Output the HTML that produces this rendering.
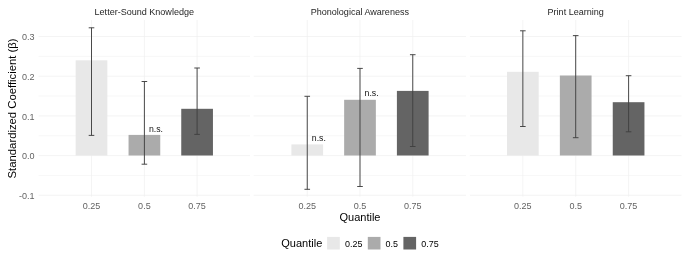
<!DOCTYPE html>
<html><head><meta charset="utf-8"><title>Chart</title>
<style>html,body{margin:0;padding:0;background:#fff}svg{display:block}</style></head>
<body>
<svg width="685" height="254" viewBox="0 0 685 254" font-family="'Liberation Sans', sans-serif">
<rect width="685" height="254" fill="#fff"/>
<line x1="38.6" x2="250.0" y1="175.45" y2="175.45" stroke="#EFEFEF" stroke-width="0.5"/>
<line x1="38.6" x2="250.0" y1="135.75" y2="135.75" stroke="#EFEFEF" stroke-width="0.5"/>
<line x1="38.6" x2="250.0" y1="96.05" y2="96.05" stroke="#EFEFEF" stroke-width="0.5"/>
<line x1="38.6" x2="250.0" y1="56.35" y2="56.35" stroke="#EFEFEF" stroke-width="0.5"/>
<line x1="38.6" x2="250.0" y1="195.30" y2="195.30" stroke="#EFEFEF" stroke-width="0.7"/>
<line x1="38.6" x2="250.0" y1="155.60" y2="155.60" stroke="#EFEFEF" stroke-width="0.7"/>
<line x1="38.6" x2="250.0" y1="115.90" y2="115.90" stroke="#EFEFEF" stroke-width="0.7"/>
<line x1="38.6" x2="250.0" y1="76.20" y2="76.20" stroke="#EFEFEF" stroke-width="0.7"/>
<line x1="38.6" x2="250.0" y1="36.50" y2="36.50" stroke="#EFEFEF" stroke-width="0.7"/>
<line x1="91.5" x2="91.5" y1="20.0" y2="196.7" stroke="#EFEFEF" stroke-width="0.7"/>
<line x1="144.4" x2="144.4" y1="20.0" y2="196.7" stroke="#EFEFEF" stroke-width="0.7"/>
<line x1="197.1" x2="197.1" y1="20.0" y2="196.7" stroke="#EFEFEF" stroke-width="0.7"/>
<rect x="75.65" y="60.30" width="31.7" height="95.20" fill="#E8E8E8"/>
<rect x="128.55" y="134.90" width="31.7" height="20.60" fill="#ABABAB"/>
<rect x="181.25" y="108.80" width="31.7" height="46.70" fill="#646464"/>
<path d="M88.70 27.80H94.30M91.50 27.80V135.40M88.70 135.40H94.30" stroke="#404040" stroke-width="0.95" fill="none"/>
<text x="91.50" y="209" font-size="9.04" fill="#636363" text-anchor="middle">0.25</text>
<path d="M141.60 81.50H147.20M144.40 81.50V164.20M141.60 164.20H147.20" stroke="#404040" stroke-width="0.95" fill="none"/>
<text x="156.00" y="132" font-size="8.73" fill="#111" text-anchor="middle">n.s.</text>
<text x="144.40" y="209" font-size="9.04" fill="#636363" text-anchor="middle">0.5</text>
<path d="M194.30 68.00H199.90M197.10 68.00V134.40M194.30 134.40H199.90" stroke="#404040" stroke-width="0.95" fill="none"/>
<text x="197.10" y="209" font-size="9.04" fill="#636363" text-anchor="middle">0.75</text>
<text x="144.30" y="15" font-size="9.04" fill="#262626" text-anchor="middle">Letter-Sound Knowledge</text>
<line x1="253.7" x2="466.0" y1="175.45" y2="175.45" stroke="#EFEFEF" stroke-width="0.5"/>
<line x1="253.7" x2="466.0" y1="135.75" y2="135.75" stroke="#EFEFEF" stroke-width="0.5"/>
<line x1="253.7" x2="466.0" y1="96.05" y2="96.05" stroke="#EFEFEF" stroke-width="0.5"/>
<line x1="253.7" x2="466.0" y1="56.35" y2="56.35" stroke="#EFEFEF" stroke-width="0.5"/>
<line x1="253.7" x2="466.0" y1="195.30" y2="195.30" stroke="#EFEFEF" stroke-width="0.7"/>
<line x1="253.7" x2="466.0" y1="155.60" y2="155.60" stroke="#EFEFEF" stroke-width="0.7"/>
<line x1="253.7" x2="466.0" y1="115.90" y2="115.90" stroke="#EFEFEF" stroke-width="0.7"/>
<line x1="253.7" x2="466.0" y1="76.20" y2="76.20" stroke="#EFEFEF" stroke-width="0.7"/>
<line x1="253.7" x2="466.0" y1="36.50" y2="36.50" stroke="#EFEFEF" stroke-width="0.7"/>
<line x1="307.25" x2="307.25" y1="20.0" y2="196.7" stroke="#EFEFEF" stroke-width="0.7"/>
<line x1="360.0" x2="360.0" y1="20.0" y2="196.7" stroke="#EFEFEF" stroke-width="0.7"/>
<line x1="412.75" x2="412.75" y1="20.0" y2="196.7" stroke="#EFEFEF" stroke-width="0.7"/>
<rect x="291.40" y="144.40" width="31.7" height="11.10" fill="#E8E8E8"/>
<rect x="344.15" y="99.80" width="31.7" height="55.70" fill="#ABABAB"/>
<rect x="396.90" y="90.90" width="31.7" height="64.60" fill="#646464"/>
<path d="M304.45 96.30H310.05M307.25 96.30V189.30M304.45 189.30H310.05" stroke="#404040" stroke-width="0.95" fill="none"/>
<text x="318.85" y="141" font-size="8.73" fill="#111" text-anchor="middle">n.s.</text>
<text x="307.25" y="209" font-size="9.04" fill="#636363" text-anchor="middle">0.25</text>
<path d="M357.20 68.40H362.80M360.00 68.40V186.50M357.20 186.50H362.80" stroke="#404040" stroke-width="0.95" fill="none"/>
<text x="371.60" y="96" font-size="8.73" fill="#111" text-anchor="middle">n.s.</text>
<text x="360.00" y="209" font-size="9.04" fill="#636363" text-anchor="middle">0.5</text>
<path d="M409.95 54.70H415.55M412.75 54.70V146.50M409.95 146.50H415.55" stroke="#404040" stroke-width="0.95" fill="none"/>
<text x="412.75" y="209" font-size="9.04" fill="#636363" text-anchor="middle">0.75</text>
<text x="359.85" y="15" font-size="9.04" fill="#262626" text-anchor="middle">Phonological Awareness</text>
<line x1="469.9" x2="681.5" y1="175.45" y2="175.45" stroke="#EFEFEF" stroke-width="0.5"/>
<line x1="469.9" x2="681.5" y1="135.75" y2="135.75" stroke="#EFEFEF" stroke-width="0.5"/>
<line x1="469.9" x2="681.5" y1="96.05" y2="96.05" stroke="#EFEFEF" stroke-width="0.5"/>
<line x1="469.9" x2="681.5" y1="56.35" y2="56.35" stroke="#EFEFEF" stroke-width="0.5"/>
<line x1="469.9" x2="681.5" y1="195.30" y2="195.30" stroke="#EFEFEF" stroke-width="0.7"/>
<line x1="469.9" x2="681.5" y1="155.60" y2="155.60" stroke="#EFEFEF" stroke-width="0.7"/>
<line x1="469.9" x2="681.5" y1="115.90" y2="115.90" stroke="#EFEFEF" stroke-width="0.7"/>
<line x1="469.9" x2="681.5" y1="76.20" y2="76.20" stroke="#EFEFEF" stroke-width="0.7"/>
<line x1="469.9" x2="681.5" y1="36.50" y2="36.50" stroke="#EFEFEF" stroke-width="0.7"/>
<line x1="522.85" x2="522.85" y1="20.0" y2="196.7" stroke="#EFEFEF" stroke-width="0.7"/>
<line x1="575.7" x2="575.7" y1="20.0" y2="196.7" stroke="#EFEFEF" stroke-width="0.7"/>
<line x1="628.6" x2="628.6" y1="20.0" y2="196.7" stroke="#EFEFEF" stroke-width="0.7"/>
<rect x="507.00" y="71.80" width="31.7" height="83.70" fill="#E8E8E8"/>
<rect x="559.85" y="75.50" width="31.7" height="80.00" fill="#ABABAB"/>
<rect x="612.75" y="102.20" width="31.7" height="53.30" fill="#646464"/>
<path d="M520.05 30.80H525.65M522.85 30.80V126.50M520.05 126.50H525.65" stroke="#404040" stroke-width="0.95" fill="none"/>
<text x="522.85" y="209" font-size="9.04" fill="#636363" text-anchor="middle">0.25</text>
<path d="M572.90 35.60H578.50M575.70 35.60V137.70M572.90 137.70H578.50" stroke="#404040" stroke-width="0.95" fill="none"/>
<text x="575.70" y="209" font-size="9.04" fill="#636363" text-anchor="middle">0.5</text>
<path d="M625.80 75.70H631.40M628.60 75.70V131.80M625.80 131.80H631.40" stroke="#404040" stroke-width="0.95" fill="none"/>
<text x="628.60" y="209" font-size="9.04" fill="#636363" text-anchor="middle">0.75</text>
<text x="575.70" y="15" font-size="9.04" fill="#262626" text-anchor="middle">Print Learning</text>
<text x="34.6" y="199" font-size="9.04" fill="#636363" text-anchor="end">-0.1</text>
<text x="34.6" y="159" font-size="9.04" fill="#636363" text-anchor="end">0.0</text>
<text x="34.6" y="120" font-size="9.04" fill="#636363" text-anchor="end">0.1</text>
<text x="34.6" y="80" font-size="9.04" fill="#636363" text-anchor="end">0.2</text>
<text x="34.6" y="40" font-size="9.04" fill="#636363" text-anchor="end">0.3</text>
<text transform="translate(15.6,108.4) rotate(-90)" font-size="11.3" fill="#000" text-anchor="middle">Standardized Coefficient (β)</text>
<text x="360.0" y="221" font-size="11.0" fill="#000" text-anchor="middle">Quantile</text>
<text x="281.3" y="247" font-size="11.0" fill="#000">Quantile</text>
<rect x="327.1" y="236.9" width="12.7" height="12.6" fill="#E8E8E8"/>
<text x="345.1" y="247" font-size="8.95" fill="#000">0.25</text>
<rect x="367.8" y="236.9" width="12.7" height="12.6" fill="#ABABAB"/>
<text x="385.5" y="247" font-size="8.95" fill="#000">0.5</text>
<rect x="403.4" y="236.9" width="12.7" height="12.6" fill="#646464"/>
<text x="421.25" y="247" font-size="8.95" fill="#000">0.75</text>
</svg>
</body></html>
